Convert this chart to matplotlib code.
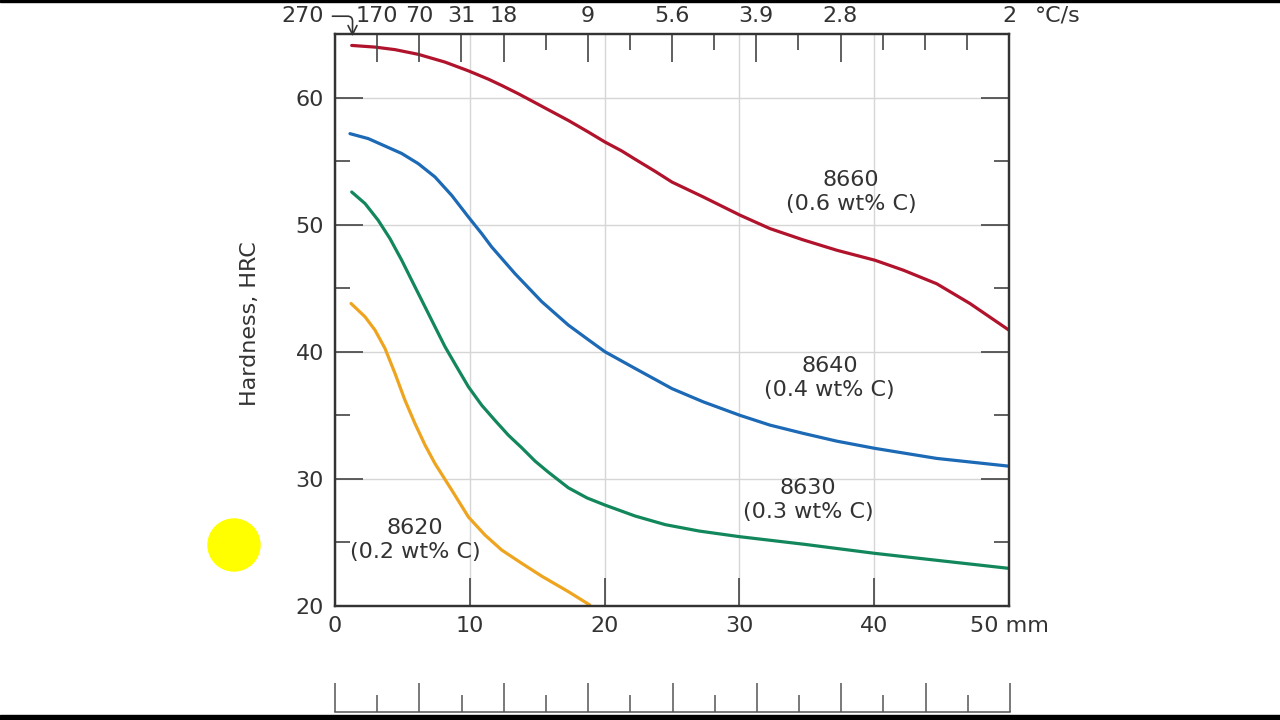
import matplotlib
matplotlib.use('Agg')
import matplotlib.pyplot as plt
from matplotlib.patches import Ellipse, Rectangle

plt.rcParams['font.family'] = ['DejaVu Sans']
plt.rcParams['font.size'] = 16
plt.rcParams['text.color'] = '#333333'

# distance from quenched end (mm) vs hardness (HRC)
x_8660 = [1.24, 2.97, 4.45, 6.18, 8.16, 9.9, 11.37, 12.37, 13.6, 14.84,
          16.07, 17.31, 18.79, 20.03, 21.27, 22.26, 23.74, 25.0, 27.32,
          30.04, 32.27, 34.74, 37.22, 40.06, 42.16, 44.64, 47.1, 50.0]
y_8660 = [64.1, 63.97, 63.77, 63.4, 62.79, 62.1, 61.45, 60.95, 60.3, 59.6,
          58.9, 58.2, 57.29, 56.5, 55.8, 55.15, 54.2, 53.35, 52.18,
          50.75, 49.69, 48.8, 47.99, 47.2, 46.42, 45.35, 43.8, 41.7]

x_8640 = [1.11, 2.47, 4.95, 6.18, 7.42, 8.66, 9.9, 10.88, 11.62, 13.35,
          15.33, 17.31, 18.79, 20.03, 22.26, 25.0, 27.32, 30.04, 32.27,
          34.74, 37.22, 40.06, 44.64, 50.0]
y_8640 = [57.16, 56.77, 55.6, 54.8, 53.75, 52.3, 50.6, 49.3, 48.25, 46.15,
          43.95, 42.1, 40.95, 40.0, 38.69, 37.1, 36.06, 35.0, 34.23,
          33.58, 32.97, 32.4, 31.61, 31.0]

x_8630 = [1.24, 2.23, 3.2, 4.08, 4.95, 5.81, 6.68, 7.42, 8.16, 9.03, 9.9,
          10.88, 11.87, 12.86, 13.85, 14.84, 15.8, 17.31, 18.7, 20.03,
          22.26, 24.5, 27.0, 30.04, 34.85, 40.06, 45.1, 50.0]
y_8630 = [52.57, 51.66, 50.35, 48.9, 47.2, 45.37, 43.53, 41.96, 40.4, 38.81,
          37.24, 35.8, 34.6, 33.44, 32.45, 31.4, 30.55, 29.3, 28.5, 27.94,
          27.08, 26.4, 25.9, 25.45, 24.85, 24.14, 23.54, 22.96]

x_8620 = [1.19, 2.23, 2.97, 3.71, 4.45, 5.19, 5.93, 6.68, 7.42, 8.66, 9.9,
          11.13, 12.37, 13.85, 15.33, 17.31, 18.9]
y_8620 = [43.8, 42.75, 41.7, 40.26, 38.3, 36.19, 34.36, 32.66, 31.2, 29.12,
          27.0, 25.58, 24.4, 23.36, 22.35, 21.13, 20.08]

series = [
    (x_8660, y_8660, '#b0132b', '8660\n(0.6 wt% C)', 38.3, 52.6),
    (x_8640, y_8640, '#1c69b5', '8640\n(0.4 wt% C)', 36.7, 37.9),
    (x_8630, y_8630, '#12875c', '8630\n(0.3 wt% C)', 35.1, 28.3),
    (x_8620, y_8620, '#eea41f', '8620\n(0.2 wt% C)', 5.93, 25.2),
]

# cooling rate scale on top
rate_pos = [3.125, 6.25, 9.375, 12.5, 18.75, 25, 31.25, 37.5, 50]
rate_lab = ['170', '70', '31', '18', '9', '5.6', '3.9', '2.8', '2']
rate_minor = [15.625, 21.875, 28.125, 34.375, 40.625, 43.75, 46.875]

# inch ruler below
ruler_major = [0, 6.25, 12.5, 18.75, 25, 31.25, 37.5, 43.75, 50]
ruler_minor = [3.125, 9.375, 15.625, 21.875, 28.125, 34.375, 40.625, 46.875]

spine_c = '#333333'
tick_c = '#444444'

fig = plt.figure(figsize=(12.8, 7.2), dpi=100)
ax = fig.add_axes([335/1280, 114/720, 674/1280, 572/720])

for xs, ys, c, lab, tx, ty in series:
    ax.plot(xs, ys, color=c, lw=2.3, solid_capstyle='round',
            solid_joinstyle='round')
    ax.text(tx, ty, lab, ha='center', va='center', fontsize=16,
            linespacing=1.25, color='#333333')

ax.set_xlim(0, 50)
ax.set_ylim(20, 65)
ax.set_xticks([0, 10, 20, 30, 40, 50])
ax.set_xticklabels(['0', '10', '20', '30', '40', '50 mm'])
ax.set_yticks([20, 30, 40, 50, 60])
ax.set_yticks([25, 35, 45, 55], minor=True)
ax.tick_params(axis='x', direction='in', length=20, width=1.2, color=tick_c,
               top=False, pad=7, labelcolor='#333333')
ax.tick_params(axis='y', which='major', direction='in', length=20, width=1.2,
               color=tick_c, left=True, right=True, pad=8, labelcolor='#333333')
ax.tick_params(axis='y', which='minor', direction='in', length=11, width=1.2,
               color=tick_c, left=True, right=True)
ax.grid(True, which='major', color='#d6d6d6', lw=1)
ax.set_axisbelow(True)
for s in ax.spines.values():
    s.set_color(spine_c)
    s.set_linewidth(1.6)

ax.text(-0.126, 0.493, 'Hardness, HRC', rotation=90, ha='center',
        va='center', transform=ax.transAxes, fontsize=16)

ax2 = ax.twiny()
ax2.set_xlim(0, 50)
ax2.set_xticks(rate_pos)
ax2.set_xticklabels(rate_lab)
ax2.set_xticks(rate_minor, minor=True)
ax2.tick_params(axis='x', which='major', direction='in', length=20, width=1.2,
                color=tick_c, pad=6, labelcolor='#333333')
ax2.tick_params(axis='x', which='minor', direction='in', length=11.5,
                width=1.2, color=tick_c)
for s in ax2.spines.values():
    s.set_color(spine_c)
    s.set_linewidth(1.6)

ax2.annotate('270', xy=(-2.4, 1), xycoords=('data', 'axes fraction'),
             xytext=(0, 6), textcoords='offset points', ha='center',
             va='bottom', fontsize=16, annotation_clip=False)
ax2.annotate('\u00b0C/s', xy=(53.6, 1), xycoords=('data', 'axes fraction'),
             xytext=(0, 6), textcoords='offset points', ha='center',
             va='bottom', fontsize=16, annotation_clip=False)
ax.annotate('', xy=(1.3, 64.6), xytext=(-0.4, 66.4),
            arrowprops=dict(arrowstyle='->', color='#333333', lw=1.2,
                            connectionstyle='angle,angleA=0,angleB=90,rad=5'),
            annotation_clip=False)

# ruler
axr = fig.add_axes([335/1280, 8/720, 675/1280, 40/720])
axr.set_xlim(0, 50)
axr.set_ylim(0, 1)
axr.set_xticks(ruler_major)
axr.set_xticks(ruler_minor, minor=True)
axr.set_xticklabels([])
axr.set_yticks([])
axr.tick_params(axis='x', which='major', direction='in', length=21, width=1.1,
                color='#555555')
axr.tick_params(axis='x', which='minor', direction='in', length=12, width=1.1,
                color='#555555')
for k in ['top', 'left', 'right']:
    axr.spines[k].set_visible(False)
axr.spines['bottom'].set_color('#555555')
axr.spines['bottom'].set_linewidth(1.1)
axr.patch.set_alpha(0)

# cursor highlight and frame edges
fig.add_artist(Ellipse((234/1280, 1 - 545/720), 52/1280, 52/720,
                       transform=fig.transFigure, color='#ffff00', zorder=5))
fig.add_artist(Rectangle((0, 0), 1, 5/720, transform=fig.transFigure,
                         color='black'))
fig.add_artist(Rectangle((0, 1 - 2/720), 1, 2/720, transform=fig.transFigure,
                         color='black'))

fig.savefig('out.png', dpi=100)
